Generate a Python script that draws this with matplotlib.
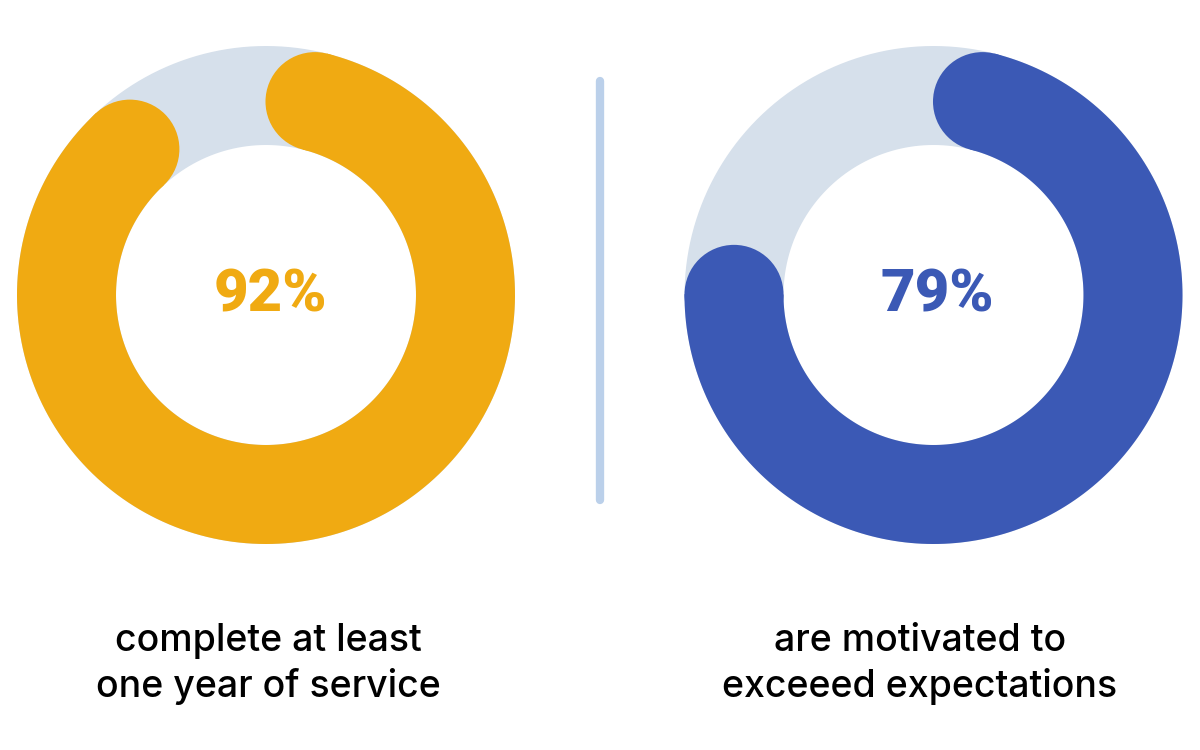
import numpy as np
import matplotlib.pyplot as plt
from matplotlib.patches import Polygon, Circle

# values
percents = [92, 79]
captions = ["complete at least\none year of service",
            "are motivated to\nexceeed expectations"]
arc_colors = ["#F0AA12", "#3B59B5"]

track_color = "#D6E0EB"
divider_color = "#BBD0EA"

# layout (pixel units, y downwards)
centers = [(266, 295), (933.5, 295)]
caption_x = [268, 920]
r_in, r_out = 150, 249


def ring_points(cx, cy, r, a0, a1, n=200):
    # angles clockwise from 12 o'clock, degrees
    a = np.radians(np.linspace(a0, a1, n))
    return np.column_stack([cx + r * np.sin(a), cy - r * np.cos(a)])


def ring_arc(ax, cx, cy, a0, a1, color, z):
    outer = ring_points(cx, cy, r_out, a0, a1)
    inner = ring_points(cx, cy, r_in, a1, a0)
    ax.add_patch(Polygon(np.vstack([outer, inner]), closed=True,
                         facecolor=color, edgecolor="none", zorder=z))


fig = plt.figure(figsize=(12, 7.5), dpi=100)
ax = fig.add_axes([0, 0, 1, 1])
ax.set_xlim(0, 1200)
ax.set_ylim(750, 0)
ax.set_aspect("equal")
ax.axis("off")

r_mid = (r_in + r_out) / 2
half_w = (r_out - r_in) / 2
cap_deg = np.degrees(half_w / r_mid)

for (cx, cy), pct, col, cap, tx in zip(centers, percents, arc_colors, captions, caption_x):
    # background track
    ring_arc(ax, cx, cy, 0, 360, track_color, 1)
    # value arc with rounded ends, total visual span = pct of the circle
    span = pct / 100 * 360
    a0, a1 = cap_deg, span - cap_deg
    ring_arc(ax, cx, cy, a0, a1, col, 2)
    for a in (a0, a1):
        p = ring_points(cx, cy, r_mid, a, a, n=1)[0]
        ax.add_patch(Circle(p, half_w, facecolor=col, edgecolor="none", zorder=3))

    ax.text(cx + 4, cy + 1, f"{pct}%", ha="center", va="center", color=col,
            fontsize=43, fontweight="black", family=["Roboto", "DejaVu Sans"])

    ax.text(tx, 664, cap, ha="center", va="center", color="black",
            fontsize=27, fontweight="medium", linespacing=1.28,
            family=["Inter", "DejaVu Sans"])

# divider
ax.plot([600, 600], [81, 500], color=divider_color, lw=6,
        solid_capstyle="round", zorder=1)

fig.savefig("out.png", dpi=100, facecolor="white")
